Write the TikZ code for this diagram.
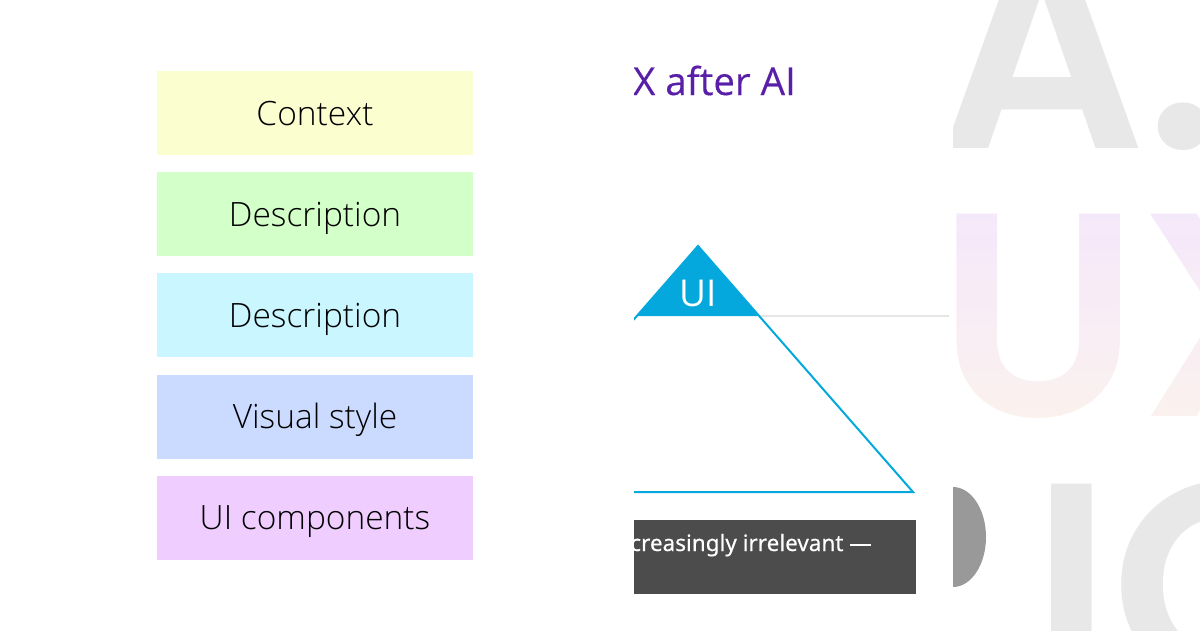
\documentclass[tikz,border=0pt]{standalone}
\usepackage{fontspec}
\setmainfont{Open Sans Light}
\newfontfamily\boldsans{Poppins SemiBold}
\newfontfamily\titlesans{Open Sans}
\newfontfamily\headsans[FakeBold=0.3]{Open Sans}
\newfontfamily\barsans[FakeBold=0.4]{Noto Sans}
\usetikzlibrary{positioning}
\definecolor{ctxcol}{HTML}{FBFFCF}
\definecolor{desccol}{HTML}{D3FFC8}
\definecolor{desctwocol}{HTML}{C9F6FF}
\definecolor{stylecol}{HTML}{CBDAFF}
\definecolor{compcol}{HTML}{F0CDFF}
\definecolor{uiblue}{HTML}{05A8DC}
\definecolor{titlecol}{HTML}{5A1FA8}
\definecolor{bigcol}{HTML}{E8E8E8}
\definecolor{uxtop}{HTML}{F4E8FB}
\definecolor{uxbottom}{HTML}{FBF2EE}
\tikzset{
    layerbox/.style={shape=rectangle, minimum width=316pt, minimum height=84pt, inner sep=0pt, text height=24pt, text depth=0pt, font=\fontsize{33.5}{36}\selectfont},
    bigletter/.style={anchor=base west, inner sep=0pt, text=bigcol, font=\boldsans\fontsize{290}{290}\selectfont},
}
\begin{document}
\begin{tikzpicture}[x=1pt, y=-1pt]
    \useasboundingbox (0,0) rectangle (1200,630);
    \node[layerbox, fill=ctxcol] (context) at (315,113) {Context};
    \node[layerbox, fill=desccol] (desc) at (315,214) {Description};
    \node[layerbox, fill=desctwocol] (desctwo) at (315,315) {Description};
    \node[layerbox, fill=stylecol] (visual) at (315,416.5) {Visual style};
    \node[layerbox, fill=compcol] (comps) at (315,517.5) {UI components};

    \coordinate (apex) at (698,246);
    \coordinate (baseleft) at (637,316);
    \coordinate (baseright) at (759,316);
    \coordinate (footright) at (913,492);
    \coordinate (footleft) at (483,492);
    \coordinate (ruleend) at (949,316);

    \draw[draw=black!10, line width=1.5pt] (baseright) -- (ruleend);
    \begin{scope}
        \clip (634,0) rectangle (953,630);
        \node[anchor=base east, inner sep=0pt, text=titlecol, font=\headsans\fontsize{38.5}{40}\selectfont] (title) at (796,95) {UX after AI};
        \fill[uiblue] (apex) -- (baseright) -- (baseleft) -- cycle;
        \draw[uiblue, line width=2pt, line join=miter] (apex) -- (footright) -- (footleft) -- cycle;
        \fill[black!70] (634,520) rectangle (916,594);
        \node[anchor=base east, inner sep=0pt, text=white, font=\barsans\fontsize{22.5}{26}\selectfont] (caption) at (872,551) {increasingly irrelevant —};
    \end{scope}
    \node[text=white, inner sep=0pt, font=\titlesans\fontsize{37}{40}\selectfont] (ui) at (698,293) {UI};

    \begin{scope}
        \clip (953,0) rectangle (1200,630);
        \node[bigletter] (biga) at (938,148) {A.};
        \fill[black!40] (953,487) arc[start angle=-90, end angle=90, x radius=33, y radius=50];
        \foreach \i in {0,...,14} {
            \pgfmathsetmacro{\mixval}{100-\i*100/14}
            \begin{scope}
                \clip (953,{205+\i*15}) rectangle (1200,{220+\i*15});
                \node[bigletter, text=uxtop!\mixval!uxbottom] (ux\i) at (937,416) {UX};
            \end{scope}
        }
        \node[bigletter] (bigi) at (1031,686) {IO};
    \end{scope}
\end{tikzpicture}
\end{document}
